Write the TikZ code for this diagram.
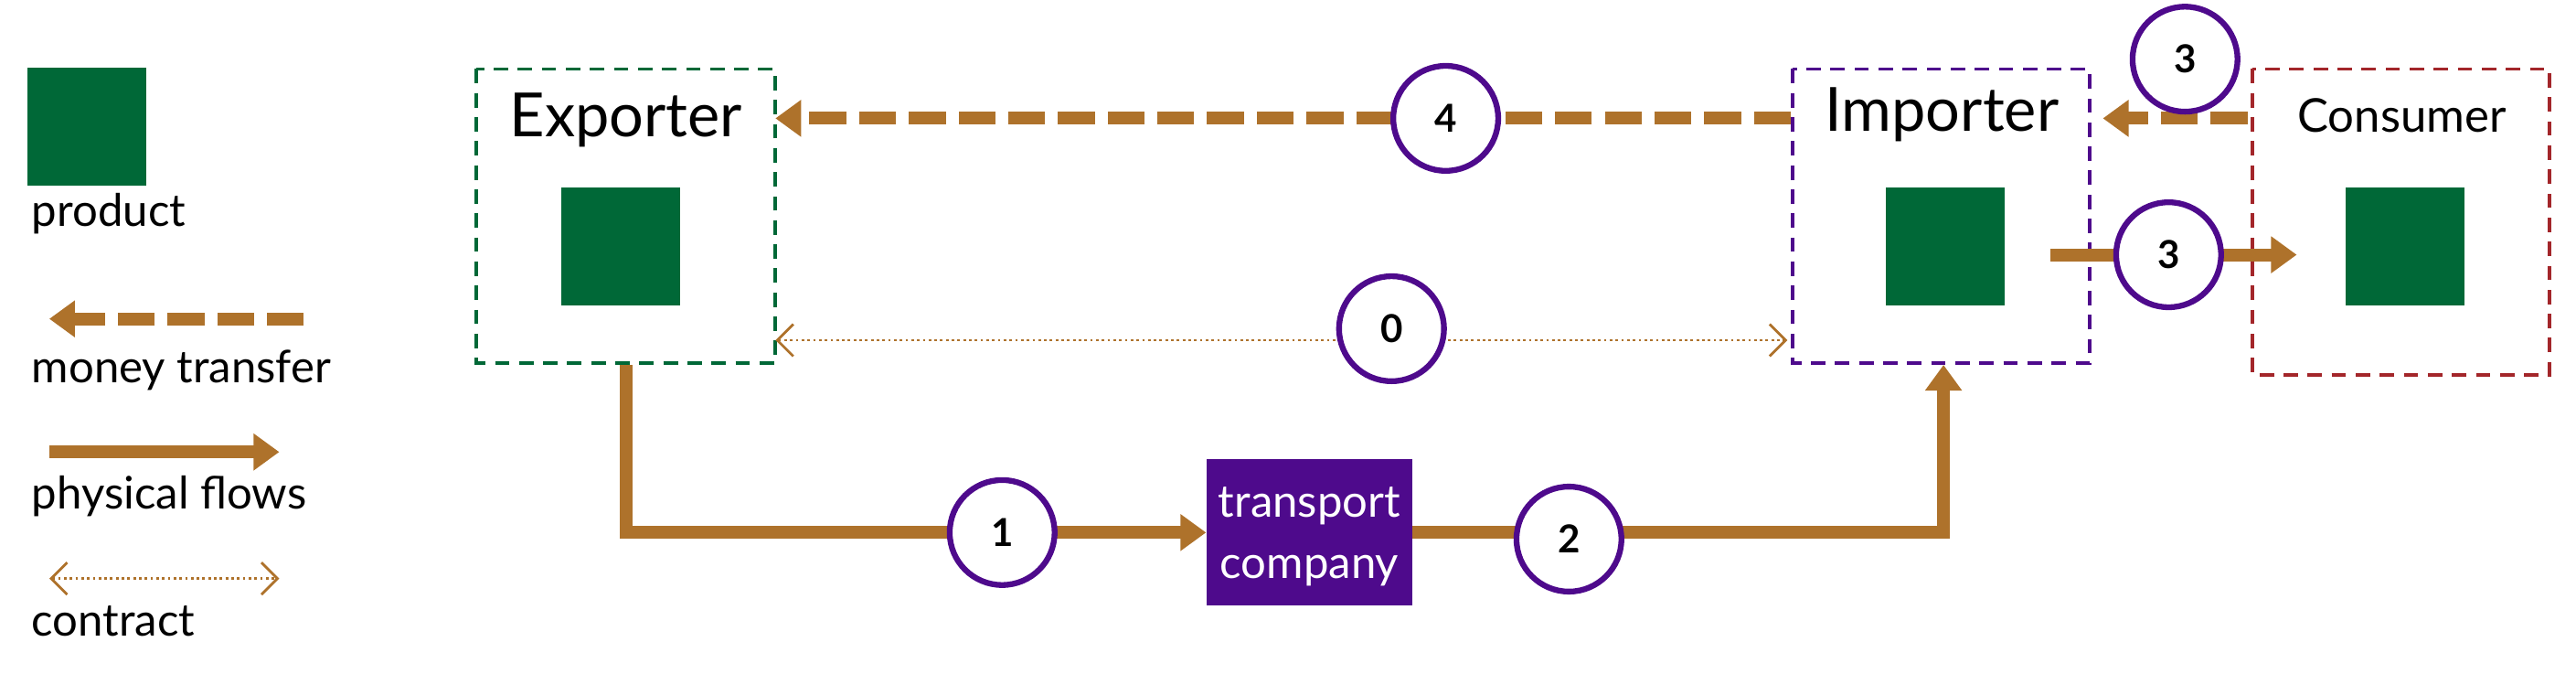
\documentclass[tikz,border=0pt]{standalone}
\usepackage{fontspec}
\setmainfont{Lato}
\usetikzlibrary{arrows.meta,positioning}
\definecolor{flowbrown}{HTML}{AE722B}
\definecolor{prodgreen}{HTML}{006837}
\definecolor{steppurple}{HTML}{4E0A8C}
\definecolor{consred}{HTML}{A3262A}
\tikzset{
  product/.style={fill=prodgreen, minimum width=1.3cm, minimum height=1.3cm, inner sep=0pt},
  actor/.style={draw=#1, line width=1.1pt, dash pattern=on 4.5pt off 3pt},
  stepno/.style={circle, draw=steppurple, line width=1.8pt, fill=white, minimum size=1.15cm, font=\large\bfseries, inner sep=0pt},
  money/.style={draw=flowbrown, line width=4pt, dash pattern=on 11.5pt off 4pt, -{Triangle[length=8pt,width=11pt]}},
  physical/.style={draw=flowbrown, line width=4pt, -{Triangle[length=8pt,width=11pt]}},
  contract/.style={draw=flowbrown, line width=0.8pt, densely dotted, {Straight Barb[length=5pt,width=10pt]}-{Straight Barb[length=5pt,width=10pt]}},
  legend/.style={font=\fontsize{14}{17}\selectfont, anchor=west, inner sep=0pt},
}
\begin{document}
\begin{tikzpicture}[x=0.018cm, y=-0.018cm]
\useasboundingbox (0,0) rectangle (1568,410);
% legend
\node[product] (legprod) at (53,77) {};
\node[legend] (legprodtxt) at (19,130) {product};
\coordinate (lm1) at (185,194); \coordinate (lm2) at (30,194);
\draw[money] (lm1) -- (lm2);
\node[legend] (legmoney) at (19,225) {money transfer};
\coordinate (lp1) at (30,275); \coordinate (lp2) at (170,275);
\draw[physical] (lp1) -- (lp2);
\node[legend] (legphys) at (19,302) {physical flows};
\coordinate (lc1) at (30,352); \coordinate (lc2) at (170,352);
\draw[contract] (lc1) -- (lc2);
\node[legend] (legcontr) at (19,378) {contract};

% actors
\draw[actor=prodgreen] (290,42) rectangle (472,221);
\node[font=\fontsize{19}{22}\selectfont] (exporter) at (381,73) {Exporter};
\node[product] (expprod) at (378,150) {};
\draw[actor=steppurple] (1091,42) rectangle (1272,221);
\node[font=\fontsize{19}{22}\selectfont] (importer) at (1182,70) {Importer};
\node[product] (impprod) at (1184,150) {};
\draw[actor=consred] (1371,42) rectangle (1552,228);
\node[font=\fontsize{14.5}{17}\selectfont] (consumer) at (1462,70) {Consumer};
\node[product] (consprod) at (1464,150) {};

% transport
\node[fill=steppurple, text=white, font=\fontsize{14}{19}\selectfont, minimum width=2.25cm, minimum height=1.6cm, align=center, inner sep=0pt, text depth=0pt] (transport) at (797,324) {transport\\company};

% flows
\coordinate (moneyA) at (1090,72); \coordinate (moneyB) at (472,72);
\draw[money] (moneyA) -- (moneyB);
\node[stepno] (s4) at (880,72) {4};
\coordinate (moneyC) at (1368,72); \coordinate (moneyD) at (1280,72);
\draw[money] (moneyC) -- (moneyD);
\node[stepno] (s3a) at (1330,36) {3};
\coordinate (goodsA) at (1248,155); \coordinate (goodsB) at (1398,155);
\draw[physical] (goodsA) -- (goodsB);
\node[stepno] (s3b) at (1320,155) {3};
\coordinate (contrA) at (472,207); \coordinate (contrB) at (1088,207);
\draw[contract] (contrA) -- (contrB);
\node[stepno] (s0) at (847,200) {0};
\coordinate (shipA) at (381,222);
\draw[physical] (shipA) |- (transport.west);
\node[stepno] (s1) at (610,324) {1};
\coordinate (shipB) at (1183,222);
\draw[physical] (transport.east) -| (shipB);
\node[stepno] (s2) at (955,328) {2};
\end{tikzpicture}
\end{document}
